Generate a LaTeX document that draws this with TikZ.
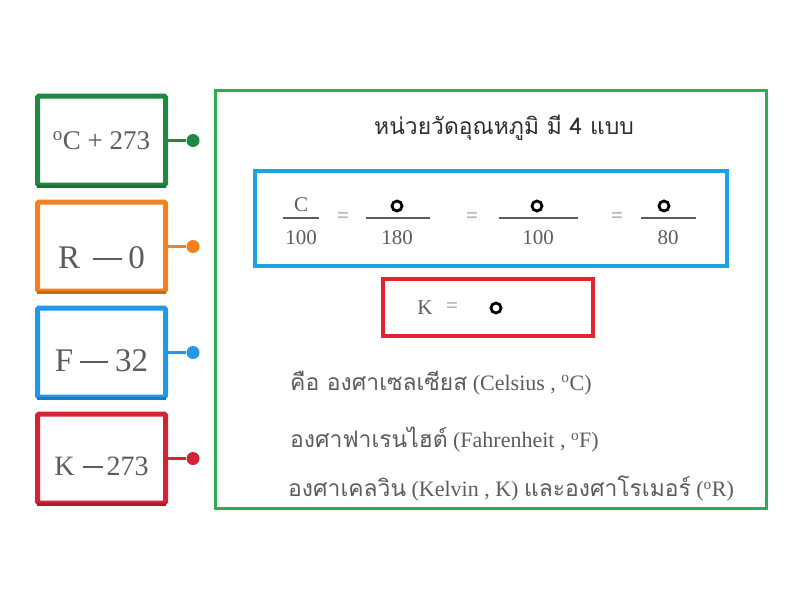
\documentclass[tikz,border=0pt]{standalone}
\usepackage{fontspec}
\setmainfont{Liberation Serif}
\newfontfamily\thaifont[Script=Thai,Scale=1.04]{Loma}
\usetikzlibrary{positioning}
\definecolor{tagGreen}{RGB}{31,137,68}
\definecolor{tagOrange}{RGB}{245,128,30}
\definecolor{tagBlue}{RGB}{34,152,232}
\definecolor{tagRed}{RGB}{212,34,54}
\definecolor{frameGreen}{RGB}{42,174,80}
\definecolor{frameBlue}{RGB}{28,164,226}
\definecolor{frameRed}{RGB}{228,34,50}
\definecolor{inkGray}{RGB}{92,92,92}

\newcommand{\bardash}[2]{\rule[#2]{#1}{2.6pt}}

\tikzset{
    tag/.style={draw=#1, line width=5pt, rounded corners=1.5pt, minimum width=128pt, minimum height=89pt, fill=white, inner sep=0pt},
    pin/.style={circle, fill=#1, minimum size=13pt, inner sep=0pt},
    ring/.style={circle, draw=black, line width=2.8pt, minimum size=10pt, inner sep=0pt},
    txt/.style={text=inkGray, inner sep=0pt, font=\fontsize{#1}{#1}\selectfont},
    bar/.style={inkGray, line width=1.1pt},
}

\begin{document}
\begin{tikzpicture}[x=1pt, y=-1pt]
    \useasboundingbox (0,0) rectangle (800,600);

    % left tags
    \foreach \n/\col/\yc/\ty/\sz/\lbl in {
        g/tagGreen/140.5/141/27/{\textsuperscript{o}C + 273},
        o/tagOrange/246.5/258/33/{R\hspace{13pt}\bardash{29pt}{8.5pt}\hspace{6pt}0},
        b/tagBlue/352.5/361/33/{F\hspace{7pt}\bardash{28pt}{8.5pt}\hspace{7pt}32},
        r/tagRed/458.5/466/28/{K\hspace{8pt}\bardash{20pt}{7pt}\hspace{4pt}273}} {
        \node[tag=\col] (\n-box) at (101.5, \yc) {};
        \draw[\col!82!black, line width=2.5pt] ([xshift=2pt, yshift=1.2pt]\n-box.south west) -- ([xshift=-2pt, yshift=1.2pt]\n-box.south east);
        \node[txt=\sz] (\n-lbl) at (101.5, \ty) {\lbl};
        \node[pin=\col] (\n-dot) at (193, \yc) {};
        \draw[\col, line width=3pt] (\n-box.east) -- (\n-dot);
    }

    % frames
    \node[draw=frameGreen, line width=3pt, minimum width=551pt, minimum height=418pt] (frame) at (491, 299.5) {};
    \node[draw=frameBlue, line width=4pt, minimum width=472pt, minimum height=95pt] (ratio) at (491, 218.5) {};
    \node[draw=frameRed, line width=4pt, minimum width=210pt, minimum height=57pt] (kelvin) at (488, 307.5) {};

    \node[txt=22, text=black!82] (title) at (504, 128) {\thaifont หน่วยวัดอุณหภูมิ มี 4 แบบ};

    % fractions
    \foreach \a/\b in {283/319, 366/430, 499/578, 641/696}
        \draw[bar] (\a, 218) -- (\b, 218);
    \node[txt=21] (c-num) at (301, 205) {C};
    \node[txt=21] (c-den) at (301, 238) {100};
    \node[txt=21, text=inkGray!70] (eq1) at (343, 218) {=};
    \node[ring] (f-num) at (397, 206) {};
    \node[txt=21] (f-den) at (397, 238) {180};
    \node[txt=21, text=inkGray!70] (eq2) at (472, 218) {=};
    \node[ring] (k-num) at (537, 206) {};
    \node[txt=21] (k-den) at (538, 238) {100};
    \node[txt=21, text=inkGray!70] (eq3) at (617, 218) {=};
    \node[ring] (r-num) at (664, 206) {};
    \node[txt=21] (r-den) at (668, 238) {80};

    \node[txt=21] (k) at (425, 308) {K};
    \node[txt=21, text=inkGray!70] (eq4) at (452, 308) {=};
    \node[ring] (k-val) at (496, 308) {};

    % names of the scales
    \node[txt=22, anchor=west] (line1) at (290, 383) {{\thaifont คือ องศาเซลเซียส} (Celsius , \textsuperscript{o}C)};
    \node[txt=22, anchor=west] (line2) at (290, 440) {{\thaifont องศาฟาเรนไฮต์} (Fahrenheit , \textsuperscript{o}F)};
    \node[txt=22, anchor=west] (line3) at (288, 489) {{\thaifont องศาเคลวิน} (Kelvin , K) {\thaifont และองศาโรเมอร์} (\textsuperscript{o}R)};
\end{tikzpicture}
\end{document}
